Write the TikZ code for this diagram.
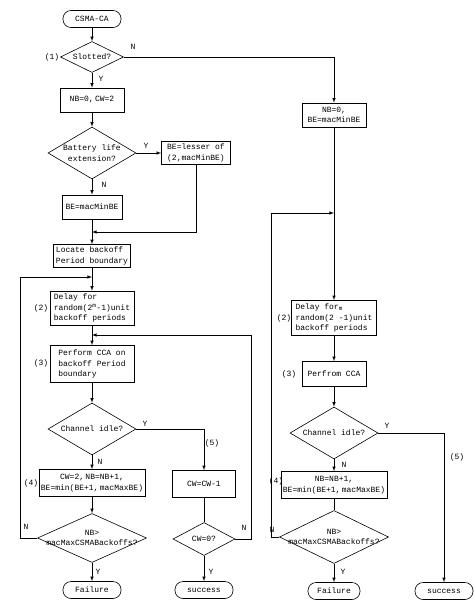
\documentclass[tikz,border=0pt]{standalone}
\usepackage{fontspec}
\setmainfont{Liberation Serif}
\setmonofont{Liberation Mono}
\usetikzlibrary{shapes.geometric}

\begin{document}
\begin{tikzpicture}[x=1pt, y=-1pt, >=latex, line width=0.6pt]
        \tikzstyle{every node}=[font=\ttfamily\fontsize{8}{10.5}\selectfont]
        \tikzstyle{box}=[draw, rectangle, inner sep=2pt]
        \tikzstyle{term}=[draw, rectangle, rounded corners=8pt, minimum width=58pt, minimum height=17pt, inner sep=1pt]
        \tikzstyle{decision}=[draw, diamond, inner sep=0pt]
        \tikzstyle{lbl}=[inner sep=1pt]

        \useasboundingbox (0,0) rectangle (474,600);

% Left branch: slotted CSMA-CA

        \node[term] (start) at (92,19) {CSMA-CA};
        \node[decision, minimum width=63pt, minimum height=31pt, label={center:Slotted?}] (slot) at (92,57) {};
        \node[box, minimum width=64pt, minimum height=24pt] (nbcw) at (92,100) {NB=0,\,CW=2};
        \node[decision, minimum width=88pt, minimum height=52pt, label={[align=center]center:Battery life\\extension?}] (bat) at (92,153) {};
        \node[box, align=left, minimum width=69pt, minimum height=23pt] (less) at (196,153) {BE=lesser of\\(2,macMinBE)};
        \node[box, minimum width=60pt, minimum height=24pt] (minbe) at (92,207) {BE=macMinBE};
        \coordinate (merge) at (92,232);
        \node[box, align=left, minimum width=77pt, minimum height=23pt] (loc) at (92,256) {Locate backoff\\Period boundary};
        \coordinate (lp1) at (92,277);
        \node[box, align=left, minimum width=84pt, minimum height=34pt] (dly) at (92,308) {Delay for\\random(2\textsuperscript{m}-1)unit\\backoff periods};
        \coordinate (lp2) at (92,335);
        \node[box, align=left, minimum width=84pt, minimum height=37pt] (cca) at (92,364) {Perform CCA on\\backoff Period\\boundary};
        \node[decision, minimum width=88pt, minimum height=52pt, label={center:Channel idle?}] (idle) at (92,429) {};
        \node[box, align=center, minimum width=104pt, minimum height=27pt] (inc) at (92,483) {CW=2,\,NB=NB+1,\\BE=min(BE+1,\,macMaxBE)};
        \node[box, minimum width=63pt, minimum height=27pt] (cwdec) at (204,484) {CW=CW-1};
        \node[decision, minimum width=109pt, minimum height=49pt, label={[align=center]center:NB>\\macMaxCSMABackoffs?}] (nbmax) at (92,538) {};
        \node[decision, minimum width=62pt, minimum height=33pt, label={center:CW=0?}] (cw0) at (204,539) {};
        \node[term] (fail) at (92,590) {Failure};
        \node[term] (succ) at (204,590) {success};

        \draw[->] (start) -- (slot);
        \draw[->] (slot) -- (nbcw);
        \draw[->] (nbcw) -- (bat);
        \draw[->] (bat) -- (less);
        \draw[->] (bat) -- (minbe);
        \draw[->] (minbe) -- (loc);
        \draw[->] (less) |- (merge);
        \draw[->] (loc) -- (dly);
        \draw[->] (dly) -- (cca);
        \draw[->] (cca) -- (idle);
        \draw[->] (idle) -- (inc);
        \draw[->] (idle) -| (cwdec);
        \draw[->] (inc) -- (nbmax);
        \draw (cwdec) -- (cw0);
        \draw[->] (nbmax) -- (fail);
        \draw[->] (cw0) -- (succ);
        \draw[->] (nbmax.west) -- ++(-17,0) |- (lp1);
        \draw[->] (cw0.east) -- ++(16,0) |- (lp2);

        \node[lbl] (l1) at (52,57) {(1)};
        \node[lbl] (l2) at (133,47) {N};
        \node[lbl] (l3) at (101,79) {Y};
        \node[lbl] (l4) at (146,146) {Y};
        \node[lbl] (l5) at (104,185) {N};
        \node[lbl] (l6) at (41,308) {(2)};
        \node[lbl] (l7) at (41,363) {(3)};
        \node[lbl] (l8) at (145,424) {Y};
        \node[lbl] (l9) at (212,443) {(5)};
        \node[lbl] (l10) at (100,462) {N};
        \node[lbl] (l11) at (31,483) {(4)};
        \node[lbl] (l12) at (26,527) {N};
        \node[lbl] (l13) at (244,528) {N};
        \node[lbl] (l14) at (98,572) {Y};
        \node[lbl] (l15) at (211,572) {Y};

% Right branch: unslotted CSMA-CA

        \node[box, align=center, minimum width=64pt, minimum height=24pt] (nb0r) at (334,115) {NB=0,\\BE=macMinBE};
        \coordinate (lp3) at (334,213);
        \node[box, align=left, minimum width=85pt, minimum height=35pt] (dlyr) at (334,318) {Delay for\textsubscript{m}\\random(2~-1)unit\\backoff periods};
        \node[box, minimum width=64pt, minimum height=25pt] (ccar) at (334,374) {Perfrom CCA};
        \node[decision, minimum width=88pt, minimum height=52pt, label={center:Channel idle?}] (idler) at (334,433) {};
        \node[box, align=center, minimum width=98pt, minimum height=27pt] (incr) at (334,485) {NB=NB+1,\\BE=min(BE+1,\,macMaxBE)};
        \node[decision, minimum width=109pt, minimum height=53pt, label={[align=center]center:NB>\\macMaxCSMABackoffs?}] (nbmaxr) at (334,537) {};
        \node[term, minimum width=52pt] (failr) at (334,591) {Failure};
        \node[term] (succr) at (444,591) {success};

        \draw[->] (slot.east) -| (nb0r);
        \draw[->] (nb0r) -- (dlyr);
        \draw[->] (dlyr) -- (ccar);
        \draw[->] (ccar) -- (idler);
        \draw[->] (idler) -- (incr);
        \draw (incr) -- (nbmaxr);
        \draw[->] (nbmaxr) -- (failr);
        \draw[->] (idler.east) -| (succr);
        \draw[->] (nbmaxr.west) -- ++(-8,0) |- (lp3);

        \node[lbl] (r1) at (284,318) {(2)};
        \node[lbl] (r2) at (289,374) {(3)};
        \node[lbl] (r3) at (387,426) {Y};
        \node[lbl] (r4) at (457,457) {(5)};
        \node[lbl] (r5) at (344,465) {N};
        \node[lbl] (r6) at (276,481) {(4)};
        \node[lbl] (r7) at (272,530) {N};
        \node[lbl] (r8) at (343,572) {Y};

    \end{tikzpicture}
\end{document}
